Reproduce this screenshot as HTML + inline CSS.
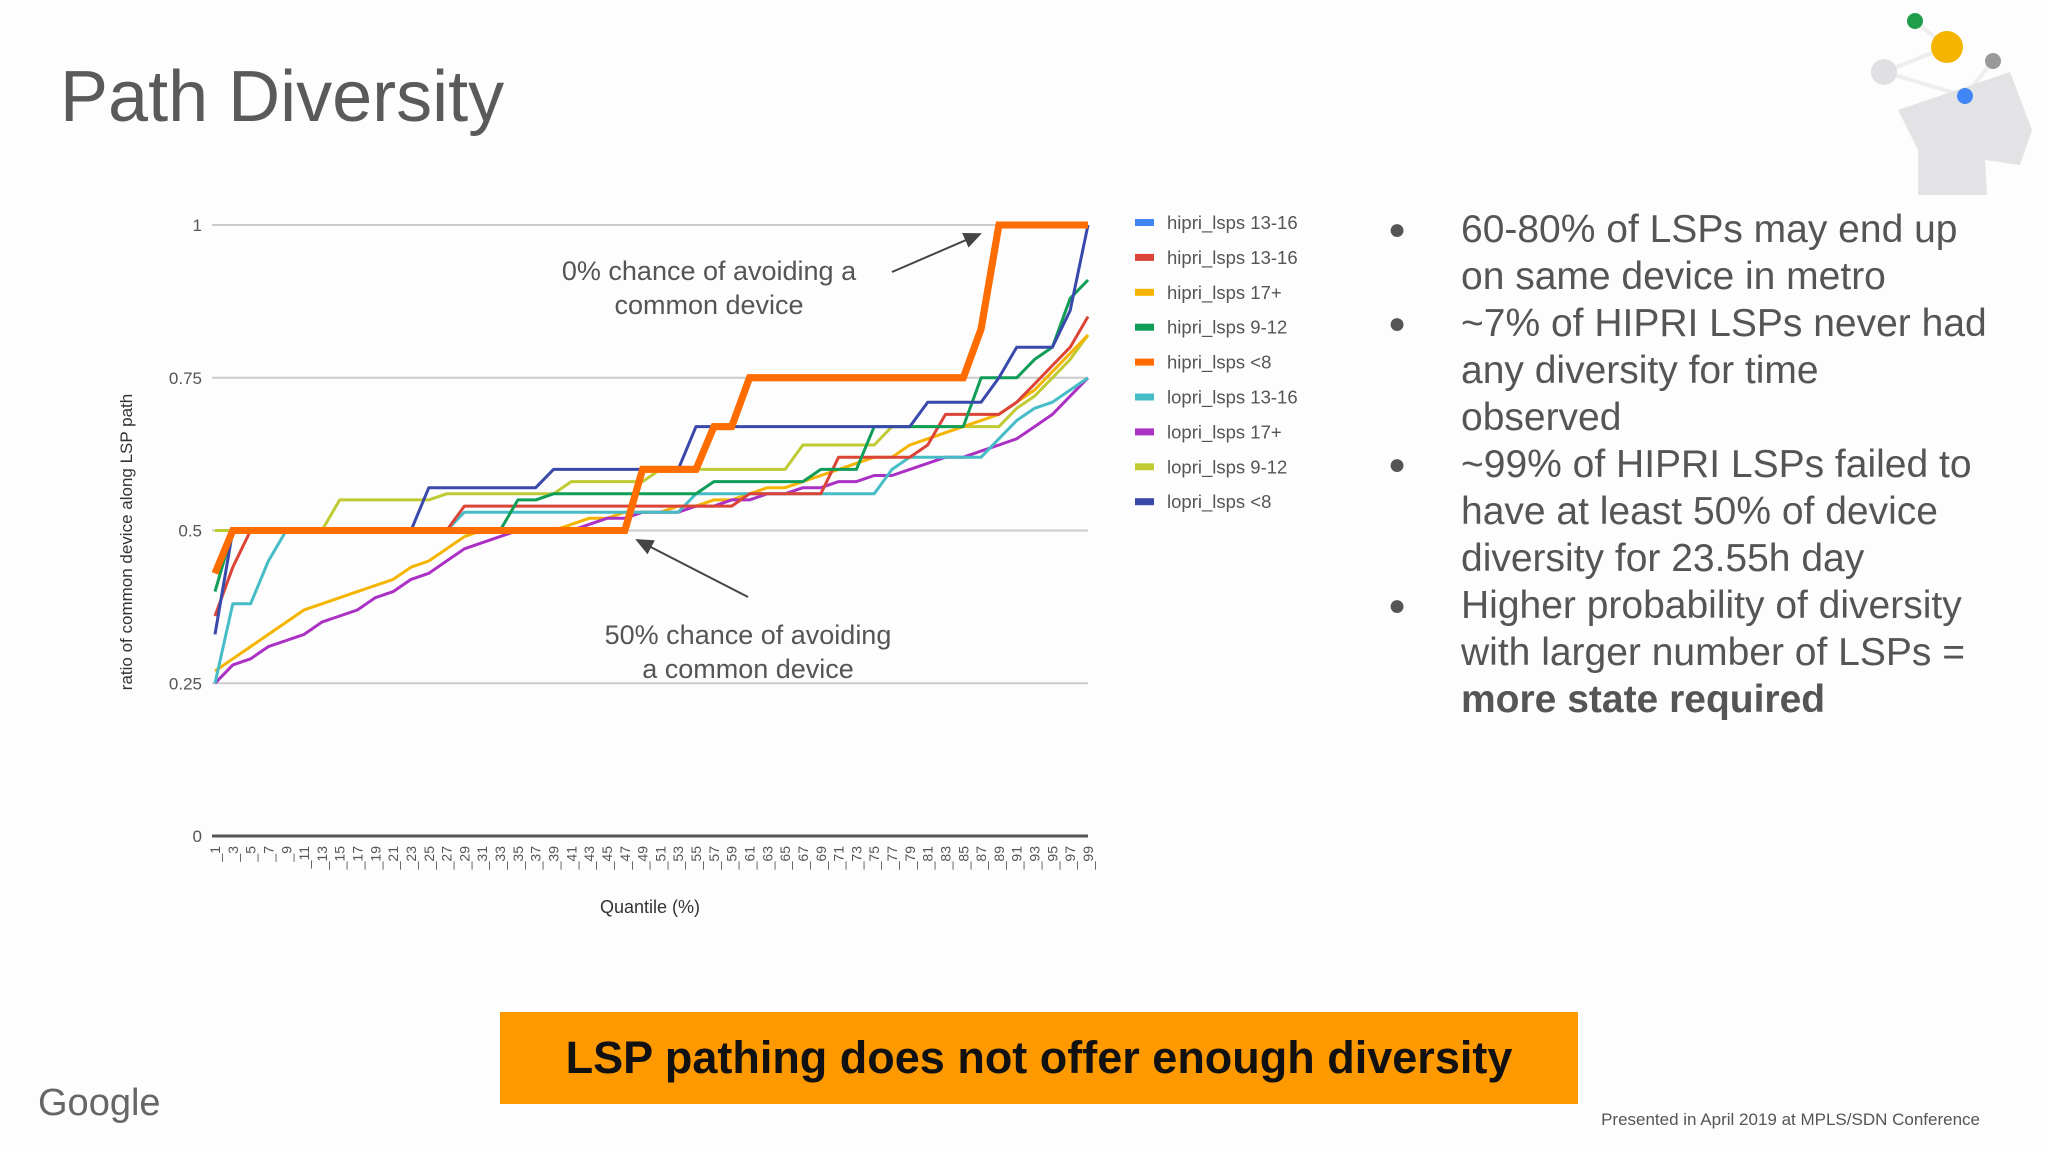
<!DOCTYPE html>
<html><head><meta charset="utf-8"><style>
html,body{margin:0;padding:0;background:#fdfdfd;}
body{width:2048px;height:1152px;position:relative;overflow:hidden;font-family:"Liberation Sans",sans-serif;}
.abs{position:absolute;}
</style></head><body>
<div class="abs" style="left:60px;top:56px;font-size:72px;color:#5a5a5a;">Path Diversity</div>

<svg class="abs" style="left:1830px;top:0" width="218" height="200">
<line x1="85" y1="21" x2="117" y2="47" stroke="#eee" stroke-width="4"/>
<line x1="54" y1="72" x2="117" y2="47" stroke="#eee" stroke-width="4"/>
<line x1="54" y1="72" x2="135" y2="96" stroke="#eee" stroke-width="4"/>
<line x1="163" y1="61" x2="135" y2="96" stroke="#eee" stroke-width="4"/>
<polygon points="68,110 180,72 202,130 190,165 155,160 157,195 88,195 88,150" fill="#e3e3e6"/>
<circle cx="85" cy="21" r="8" fill="#1e9e4a"/>
<circle cx="117" cy="47" r="16" fill="#f4b400"/>
<circle cx="54" cy="72" r="13" fill="#e0e0e3"/>
<circle cx="163" cy="61" r="8" fill="#999"/>
<circle cx="135" cy="96" r="8" fill="#4285f4"/>
</svg>

<svg id="chart" class="abs" style="left:0;top:0" width="1340" height="960"></svg>

<div class="abs" style="left:1388px;top:206px;width:600px;font-size:39px;line-height:47px;color:#555;">
<div style="position:relative;padding-left:73px"><span style="position:absolute;left:0;top:0;font-size:30px">●</span>60-80% of LSPs may end up on same device in metro</div>
<div style="position:relative;padding-left:73px"><span style="position:absolute;left:0;top:0;font-size:30px">●</span>~7% of HIPRI LSPs never had any diversity for time observed</div>
<div style="position:relative;padding-left:73px"><span style="position:absolute;left:0;top:0;font-size:30px">●</span>~99% of HIPRI LSPs failed to have at least 50% of device diversity for 23.55h day</div>
<div style="position:relative;padding-left:73px"><span style="position:absolute;left:0;top:0;font-size:30px">●</span>Higher probability of diversity with larger number of LSPs = <b>more state required</b></div>
</div>

<div class="abs" style="left:500px;top:1012px;width:1078px;height:92px;background:#ff9900;color:#111;font-weight:bold;font-size:45px;line-height:92px;text-align:center;">LSP pathing does not offer enough diversity</div>

<div class="abs" style="left:38px;top:1082px;font-size:38px;color:#666;">Google</div>
<div class="abs" style="right:68px;top:1110px;font-size:17px;color:#555;">Presented in April 2019 at MPLS/SDN Conference</div>

<script>
const quantiles = Array.from({length:50},(_, i)=>2*i+1);
const seriesNames = ["hipri_lsps 13-16","hipri_lsps 13-16","hipri_lsps 17+","hipri_lsps 9-12","hipri_lsps <8","lopri_lsps 13-16","lopri_lsps 17+","lopri_lsps 9-12","lopri_lsps <8"];
const seriesColors = ["#4285f4","#db4437","#f4b400","#0f9d58","#ff6d00","#46bdc6","#ab30c4","#c0ca33","#3949ab"];
const hipriOrange = [.43, .5,.5,.5,.5,.5,.5,.5,.5,.5,.5,.5,.5,.5,.5,.5,.5,.5,.5,.5,.5,.5,.5,.5, .6,.6,.6,.6, .67,.67, .75,.75,.75,.75,.75,.75,.75,.75,.75,.75,.75,.75,.75, .83, 1,1,1,1,1,1];
const hipriBlue = hipriOrange.slice();
const hipriRed = [.36,.44, .5,.5,.5,.5,.5,.5,.5,.5,.5,.5,.5,.5, .54,.54,.54,.54,.54,.54,.54,.54,.54,.54,.54,.54,.54,.54,.54,.54, .56,.56,.56,.56,.56, .62,.62,.62,.62,.62, .64, .69,.69,.69,.69, .71,.74,.77,.8,.85];
const hipriYellow = [.27,.29,.31,.33,.35,.37,.38,.39,.40,.41,.42,.44,.45,.47,.49,.5,.5,.5,.5,.5,.51,.52,.52,.53,.53,.53,.54,.54,.55,.55,.56,.57,.57,.58,.59,.6,.61,.62,.62,.64,.65,.66,.67,.68,.69,.71,.73,.76,.79,.82];
const hipriGreen = [.4, .5,.5,.5,.5,.5,.5,.5,.5,.5,.5,.5,.5,.5,.5,.5,.5, .55,.55, .56,.56,.56,.56,.56,.56,.56,.56,.56, .58,.58,.58,.58,.58,.58, .6,.6,.6, .67,.67,.67,.67,.67,.67, .75,.75,.75, .78,.8,.88,.91];
const lopriTeal = [.25,.38,.38,.45, .5,.5,.5,.5,.5,.5,.5,.5,.5,.5, .53,.53,.53,.53,.53,.53,.53,.53,.53,.53,.53,.53,.53, .56,.56,.56,.56,.56,.56,.56,.56,.56,.56,.56, .6, .62,.62,.62,.62,.62, .65,.68,.7,.71,.73,.75];
const lopriPurple = [.25,.28,.29,.31,.32,.33,.35,.36,.37,.39,.40,.42,.43,.45,.47,.48,.49,.5,.5,.5,.5,.51,.52,.52,.53,.53,.53,.54,.54,.55,.55,.56,.56,.57,.57,.58,.58,.59,.59,.6,.61,.62,.62,.63,.64,.65,.67,.69,.72,.75];
const lopriOlive = [.5, .5,.5,.5,.5,.5,.5, .55,.55,.55,.55,.55,.55, .56,.56,.56,.56,.56,.56,.56, .58,.58,.58,.58,.58, .6,.6,.6,.6,.6,.6,.6,.6, .64,.64,.64,.64,.64, .67,.67,.67,.67,.67,.67,.67, .7,.72,.75,.78,.82];
const lopriNavy = [.33, .5,.5,.5,.5,.5,.5,.5,.5,.5,.5,.5, .57,.57,.57,.57,.57,.57,.57, .6,.6,.6,.6,.6,.6,.6,.6, .67,.67,.67,.67,.67,.67,.67,.67,.67,.67,.67,.67,.67, .71,.71,.71,.71, .75, .8,.8,.8, .86, 1];
const yTicks = [0,0.25,0.5,0.75,1];
const yTickLabels = ["0","0.25","0.5","0.75","1"];
const xTickLabels = Array.from({length:50},(_, i)=>"_"+(2*i+1));

const NS="http://www.w3.org/2000/svg";
const svg=document.getElementById('chart');
const X0=215,X1=1088,Y0=836,Y1=225;
const xs=q=>X0+(q-1)/98*(X1-X0);
const ys=v=>Y0-v*(Y0-Y1);
function mk(tag,attrs,parent){const e=document.createElementNS(NS,tag);for(const k in attrs)e.setAttribute(k,attrs[k]);(parent||svg).appendChild(e);return e;}

yTicks.forEach((t,i)=>{
  const g=mk('line',{x1:X0-3,x2:X1,y1:ys(t),y2:ys(t),stroke:t===0?'#555':'#ccc','stroke-width':t===0?3:2});
  
  
  const tx=mk('text',{x:202,y:ys(t)+6,'text-anchor':'end','font-size':17,fill:'#555','font-family':'Liberation Sans, sans-serif'});
  tx.textContent=yTickLabels[i];
  
  
});
quantiles.forEach((q,i)=>{
  const x=xs(q)+5;
  const tx=mk('text',{x:0,y:0,transform:`translate(${x},846) rotate(-90)`,'text-anchor':'end','font-size':14,fill:'#555','font-family':'Liberation Sans, sans-serif'});
  tx.textContent=xTickLabels[i];
  
  
});
const yt=mk('text',{transform:'translate(132,542) rotate(-90)','text-anchor':'middle','font-size':17,fill:'#333','font-family':'Liberation Sans, sans-serif'});
yt.textContent='ratio of common device along LSP path';


const xt=mk('text',{x:650,y:913,'text-anchor':'middle','font-size':18,fill:'#333','font-family':'Liberation Sans, sans-serif'});
xt.textContent='Quantile (%)';



const seriesData=[hipriBlue,hipriRed,hipriYellow,hipriGreen,hipriOrange,lopriTeal,lopriPurple,lopriOlive,lopriNavy];
const order=[0,4,7,2,6,5,1,3,8];
order.forEach(si=>{
  const d=seriesData[si].map((v,i)=>(i?'L':'M')+xs(quantiles[i]).toFixed(1)+','+ys(v).toFixed(1)).join(' ');
  const p=mk('path',{d:d,fill:'none',stroke:seriesColors[si],'stroke-width':si===4?7:3,'stroke-linejoin':'round'});
  
  
});
{
  const si=4;
  const d=seriesData[si].map((v,i)=>(i?'L':'M')+xs(quantiles[i]).toFixed(1)+','+ys(v).toFixed(1)).join(' ');
  const p=mk('path',{d:d,fill:'none',stroke:seriesColors[si],'stroke-width':7,'stroke-linejoin':'miter'});
  
  
}
seriesNames.forEach((n,i)=>{
  const y=223+i*34.9;
  const r=mk('rect',{x:1135,y:y-4,width:19,height:7,fill:seriesColors[i]});
  
  
  const t=mk('text',{x:1167,y:y+6,'font-size':18.5,fill:'#555','font-family':'Liberation Sans, sans-serif'});
  t.textContent=n;
  
  
});
function ann(lines,cx,y0,name){
  lines.forEach((l,i)=>{
    const t=mk('text',{x:cx,y:y0+i*34,'text-anchor':'middle','font-size':27,fill:'#555','font-family':'Liberation Sans, sans-serif'});
    t.textContent=l;
    
    
  });
}
ann(['0% chance of avoiding a','common device'],709,280,'annotation-0-percent');
ann(['50% chance of avoiding','a common device'],748,644,'annotation-50-percent');
mk('defs',{}).innerHTML='<marker id="ah" markerWidth="10" markerHeight="10" refX="8" refY="5" orient="auto"><path d="M0,1 L9,5 L0,9 z" fill="#444"/></marker>';
const a1=mk('line',{x1:892,y1:272,x2:980,y2:234,stroke:'#444','stroke-width':2,'marker-end':'url(#ah)'});


const a2=mk('line',{x1:748,y1:597,x2:637,y2:540,stroke:'#444','stroke-width':2,'marker-end':'url(#ah)'});


</script>
</body></html>
